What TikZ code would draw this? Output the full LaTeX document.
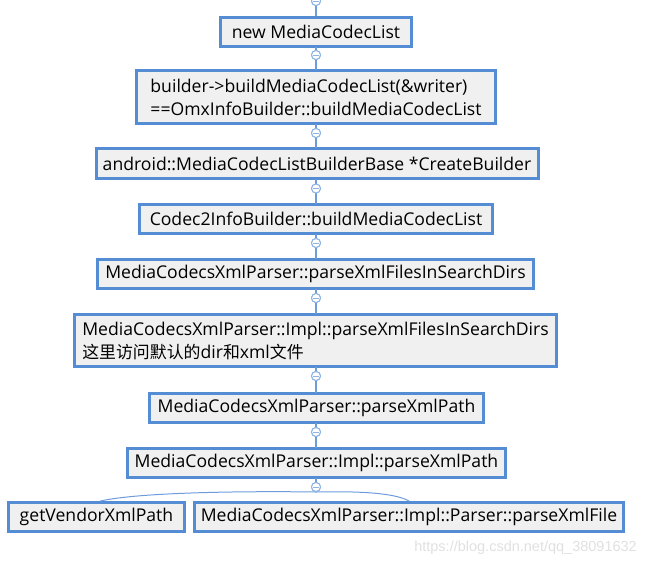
\documentclass[tikz,border=0pt]{standalone}
\usepackage{fontspec}
\setmainfont{Open Sans}
\newfontfamily\cjkfont[Scale=0.96]{Noto Sans CJK SC}
\newfontfamily\markfont{Liberation Sans}
\begin{document}
\begin{tikzpicture}[x=1pt,y=-1pt,line cap=rect,
	callbox/.style={draw=custcol_54_8d_d4, line width=3pt, fill=custcol_f0_f0_f0, inner sep=0, align=left,
		minimum height=29pt, font=\fontsize{17.6pt}{23pt}\selectfont},
	foldmark/.style={circle, draw=custcol_8d_b4_e3, line width=1pt, fill=white, minimum size=9pt, inner sep=0,
		path picture={\draw[custcol_8d_b4_e3, line width=1pt] ([xshift=-2.4pt]path picture bounding box.center) -- ([xshift=2.4pt]path picture bounding box.center);}},
	link/.style={custcol_6e_9b_dc, line width=1.5pt},
	branch/.style={custcol_6e_9b_dc, line width=1pt, line cap=round}]
	\definecolor{custcol_54_8d_d4}{RGB}{84, 141, 212}
	\definecolor{custcol_f0_f0_f0}{RGB}{240, 240, 240}
	\definecolor{custcol_8d_b4_e3}{RGB}{141, 180, 227}
	\definecolor{custcol_6e_9b_dc}{RGB}{110, 155, 220}
	\definecolor{custcol_e0_e0_e0}{RGB}{224, 224, 224}
	\useasboundingbox (0,0) rectangle (645,566);
	% call chain, top to bottom
	\node[callbox, minimum width=191pt] (newList) at (316,31.5) {new MediaCodecList};
	\node[callbox, minimum width=359pt, minimum height=53pt] (buildList) at (316,97) {builder-{}>buildMediaCodecList(\&writer)\\={}=OmxInfoBuilder::buildMediaCodecList};
	\node[callbox, minimum width=442pt, minimum height=30pt] (createBuilder) at (317,163.5) {android::MediaCodecListBuilderBase *CreateBuilder};
	\node[callbox, minimum width=353pt] (codecTwo) at (316,219) {Codec2InfoBuilder::buildMediaCodecList};
	\node[callbox, minimum width=436pt] (parseDirs) at (315.5,274) {MediaCodecsXmlParser::parseXmlFilesInSearchDirs};
	\node[callbox, minimum width=482pt, minimum height=52pt] (implDirs) at (315.5,340.5) {MediaCodecsXmlParser::Impl::parseXmlFilesInSearchDirs\\{\cjkfont 这里访问默认的}dir{\cjkfont 和}xml{\cjkfont 文件}};
	\node[callbox, minimum width=334pt] (parsePath) at (316.5,408) {MediaCodecsXmlParser::parseXmlPath};
	\node[callbox, minimum width=378pt] (implPath) at (316.5,463) {MediaCodecsXmlParser::Impl::parseXmlPath};
	\node[callbox, minimum width=176pt] (vendorPath) at (96.5,517) {getVendorXmlPath};
	\node[callbox, minimum width=429pt] (parseFile) at (409,517) {MediaCodecsXmlParser::Impl::Parser::parseXmlFile};
	% fold marks under each box
	\node[foldmark] (fold0) at (316,1) {};
	\node[foldmark] (fold1) at (316,55) {};
	\node[foldmark] (fold2) at (316,133) {};
	\node[foldmark] (fold3) at (316,188.5) {};
	\node[foldmark] (fold4) at (316,243) {};
	\node[foldmark] (fold5) at (316,298) {};
	\node[foldmark] (fold6) at (316,376) {};
	\node[foldmark] (fold7) at (316,432) {};
	\node[foldmark] (fold8) at (316,487) {};
	\coordinate (topEnd) at (316,-10);
	% connectors
	\draw[link] (topEnd) -- (fold0) -- (fold0 |- newList.north);
	\draw[link] (newList) -- (fold1) -- (fold1 |- buildList.north);
	\draw[link] (buildList) -- (fold2) -- (fold2 |- createBuilder.north);
	\draw[link] (fold2 |- createBuilder.south) -- (fold3) -- (fold3 |- codecTwo.north);
	\draw[link] (codecTwo) -- (fold4) -- (fold4 |- parseDirs.north);
	\draw[link] (fold4 |- parseDirs.south) -- (fold5) -- (fold5 |- implDirs.north);
	\draw[link] (fold5 |- implDirs.south) -- (fold6) -- (fold6 |- parsePath.north);
	\draw[link] (fold6 |- parsePath.south) -- (fold7) -- (fold7 |- implPath.north);
	\draw[link] (fold7 |- implPath.south) -- (fold8);
	\draw[branch] (fold8.south) .. controls (250,491) and (140,492) .. ([xshift=4pt]vendorPath.north);
	\draw[branch] (fold8.south) .. controls (360,491) and (395,493) .. (parseFile.north);
	% redraw marks over the lines
	\foreach \f in {fold0,fold1,fold2,fold3,fold4,fold5,fold6,fold7,fold8}
		\node[foldmark] at (\f) {};
	\node[inner sep=0, anchor=east, text=custcol_e0_e0_e0, font=\markfont\fontsize{14.5pt}{14.5pt}\selectfont] (watermark) at (637,548) {https://blog.csdn.net/qq\_38091632};
\end{tikzpicture}
\end{document}
